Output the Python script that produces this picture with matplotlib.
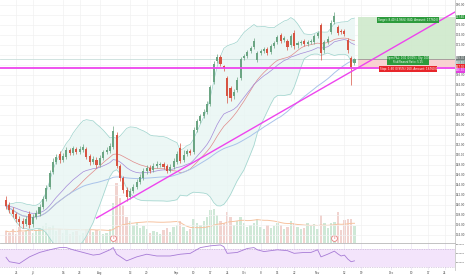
import matplotlib
matplotlib.use('Agg')
import matplotlib.pyplot as plt
import matplotlib.transforms as mtransforms
import pandas as pd

# -------------------------------
# Daily OHLC + volume (late Jun -> mid Nov)
# -------------------------------
opens = [141.0, 140.0, 139.0, 138.2, 137.2, 136.8, 136.2, 138.2, 136.2, 137.6,
         138.2, 139.6, 141.2, 143.6, 146.6, 148.6, 150.2, 149.0, 149.6, 151.0,
         150.4, 151.2, 150.6, 151.0, 151.2, 149.8, 148.6, 149.0, 148.0, 149.4,
         150.6, 150.8, 151.6, 154.0, 147.8, 145.4, 143.0, 141.6, 142.8, 143.6,
         144.6, 145.4, 146.8, 147.4, 147.0, 147.8, 148.0, 148.2, 147.8, 146.8,
         147.6, 148.6, 151.4, 149.0, 150.2, 150.8, 150.6, 155.0, 156.8, 157.8,
         158.6, 160.2, 164.6, 168.8, 169.6, 167.8, 165.4, 163.4, 161.8, 163.0,
         165.4, 169.4, 169.8, 170.8, 171.6, 169.0, 170.4, 170.8, 171.2, 170.6,
         171.8, 172.6, 174.0, 173.0, 172.8, 172.0, 174.4, 172.0, 172.4, 172.8,
         172.2, 172.6, 172.6, 173.8, 176.0, 171.0, 172.6, 174.6, 176.6, 175.6,
         174.8, 174.8, 173.0, 169.4, 168.4]
closes = [139.8, 139.0, 138.2, 137.2, 136.6, 136.2, 137.2, 136.0, 137.6, 138.4,
          139.6, 141.2, 143.4, 146.4, 148.6, 149.6, 149.0, 149.8, 151.0, 150.4,
          151.4, 150.6, 151.2, 151.6, 149.6, 148.6, 149.2, 148.0, 149.4, 150.6,
          151.0, 151.8, 154.8, 147.8, 145.4, 143.0, 141.6, 142.8, 143.6, 144.6,
          145.6, 146.8, 147.4, 146.8, 147.8, 148.2, 148.2, 147.6, 146.8, 147.6,
          148.8, 150.2, 148.8, 150.0, 150.8, 150.4, 155.0, 156.8, 157.8, 158.6,
          160.2, 163.6, 168.2, 169.6, 168.2, 167.4, 161.8, 161.4, 162.6, 165.0,
          169.2, 169.8, 170.6, 171.4, 172.8, 170.4, 170.8, 171.2, 170.4, 171.8,
          172.4, 173.6, 172.8, 173.4, 171.6, 173.8, 171.8, 172.4, 172.6, 172.2,
          172.6, 172.8, 173.8, 174.4, 170.4, 172.6, 173.2, 176.4, 177.8, 174.4,
          174.6, 174.2, 171.0, 167.6, 169.2]
highs = [141.8, 140.6, 139.6, 138.6, 137.8, 137.4, 137.8, 138.8, 138.2, 139.0,
         140.2, 141.8, 144.0, 147.0, 149.4, 150.2, 150.8, 150.4, 151.6, 151.4,
         151.8, 151.6, 151.8, 152.2, 151.6, 150.2, 149.8, 149.6, 150.0, 151.0,
         151.6, 152.4, 155.8, 154.6, 148.2, 145.8, 143.6, 143.4, 144.2, 145.2,
         146.2, 147.4, 148.0, 148.0, 148.4, 148.8, 148.6, 148.6, 148.2, 148.2,
         149.4, 150.8, 152.4, 151.0, 151.2, 151.2, 155.6, 157.2, 158.2, 159.2,
         160.8, 164.0, 168.8, 170.2, 170.0, 168.0, 165.8, 163.8, 163.2, 165.6,
         169.6, 170.2, 171.0, 171.8, 173.4, 170.8, 171.2, 171.6, 171.6, 172.2,
         172.8, 174.0, 174.4, 173.8, 173.2, 174.2, 175.0, 172.8, 173.0, 173.2,
         173.0, 173.2, 174.2, 174.8, 176.4, 173.0, 173.8, 177.0, 178.6, 176.0,
         175.2, 175.2, 173.4, 169.8, 169.4]
lows = [139.2, 138.4, 137.6, 136.6, 135.8, 135.4, 135.8, 135.4, 135.6, 137.2,
        137.8, 139.2, 140.8, 143.2, 146.2, 148.2, 148.4, 148.6, 149.2, 150.0,
        150.0, 150.2, 150.2, 150.6, 149.2, 148.0, 148.2, 147.4, 147.6, 149.0,
        150.2, 150.4, 151.2, 147.4, 144.8, 142.4, 140.8, 141.2, 142.4, 143.2,
        144.2, 145.0, 146.2, 146.4, 146.6, 147.4, 147.6, 147.2, 146.4, 146.6,
        147.2, 148.2, 148.4, 148.6, 149.8, 150.0, 150.2, 154.6, 156.4, 157.4,
        158.2, 159.8, 164.2, 168.4, 167.8, 166.8, 160.4, 160.8, 161.2, 162.6,
        165.0, 169.0, 169.4, 170.4, 171.2, 168.6, 170.0, 170.4, 170.0, 170.2,
        171.4, 172.2, 172.4, 172.6, 171.0, 171.6, 171.2, 171.4, 172.0, 171.8,
        171.8, 172.2, 172.2, 173.4, 169.0, 170.4, 172.2, 174.2, 176.2, 174.0,
        174.2, 173.8, 170.4, 164.0, 168.0]
volumes = [1.2, 1.0, 1.4, 0.9, 1.6, 1.1, 1.3, 1.8, 1.0, 1.2,
           1.5, 1.7, 2.0, 1.6, 1.8, 1.2, 1.4, 1.0, 1.3, 0.9,
           1.1, 1.2, 0.8, 1.0, 1.4, 1.5, 1.1, 1.3, 1.2, 0.9,
           1.0, 1.4, 4.0, 6.0, 4.5, 3.8, 2.6, 2.2, 1.8, 2.0,
           1.5, 1.7, 1.4, 1.0, 1.2, 1.1, 0.9, 1.3, 1.5, 1.1,
           1.6, 1.8, 2.2, 1.6, 1.2, 1.4, 2.4, 2.0, 1.8, 2.2,
           2.6, 3.3, 3.4, 2.8, 2.2, 2.0, 3.1, 2.6, 1.8, 2.2,
           2.6, 2.0, 1.6, 1.8, 2.0, 2.4, 1.6, 1.4, 1.8, 1.5,
           1.7, 2.0, 1.8, 1.4, 1.6, 2.2, 2.0, 1.6, 1.4, 1.5,
           2.0, 1.8, 1.9, 1.4, 2.8, 2.0, 1.5, 2.0, 2.1, 3.1,
           1.3, 2.3, 2.4, 2.4, 1.7]

# RSI (bar index, value)
rsi_idx = [0, 1, 4, 7, 10, 13, 16, 18, 20, 23, 26, 28, 31, 32, 33, 36, 39, 42,
           45, 49, 52, 55, 58, 61, 64, 65, 66, 69, 72, 74, 75, 77, 81, 84, 86,
           89, 91, 93, 94, 96, 98, 99, 100, 101, 102, 103, 104]
rsi_vals = [52, 42, 38, 53, 63, 69, 74, 74, 69, 63, 57, 59, 69, 74, 59, 44, 53,
            59, 55, 55, 59, 61, 74, 78, 80, 76, 61, 63, 72, 74, 69, 65, 69, 67,
            61, 63, 63, 69, 53, 59, 66, 60, 55, 57, 48, 42, 44]

tick_idx = [3, 8, 17, 22, 28, 37, 42, 51, 56, 61, 66, 71, 76, 81, 86, 93, 101,
            106, 115, 121, 126, 131]
tick_labels = ['25', 'Jul', '16', '23', 'Aug', '13', '20', 'Sep', '10', '17',
               '24', 'Oct', '8', '15', '22', 'Nov', '12', '19', 'Dec', '10',
               '17', '24']

# drawings
trend_idx = [27, 134]
trend_price = [137.4, 178.6]
hline_price = 167.4
entry_price = 169.2
target_price = 177.6
stop_price = 167.6
position_idx = [105, 134]
earnings_idx = [32, 98]
# right-axis tags: (price shown, colour) - stacked like TradingView does
tag_prices = [177.6, 169.3, 168.5, 167.7, 166.9]
tag_colors = ['#2c9b3c', '#6f7a78', '#8fa9a3', '#e8262b', '#e040e0']

UP, DOWN = '#6ba583', '#d75442'
PINK = '#ee44ee'
TXT = '#4a4a4a'

x = list(range(len(closes)))
s = pd.Series(closes)
basis = s.rolling(20, min_periods=1).mean()
dev = s.rolling(20, min_periods=1).std(ddof=0)
upper, lower = basis + 2 * dev, basis - 2 * dev
ema = s.ewm(span=20, adjust=False).mean()
ma50 = s.rolling(50, min_periods=1).mean()
vol_ma = pd.Series(volumes).rolling(20, min_periods=1).mean()
up = [c >= o for o, c in zip(opens, closes)]
colors = [UP if u else DOWN for u in up]

W, H = 466, 275
fig = plt.figure(figsize=(W / 100, H / 100), dpi=100)
fig.patch.set_facecolor('white')
main_rect = [0, 1 - 243 / H, 455 / W, 243 / H]
ax_v = fig.add_axes(main_rect)
ax = fig.add_axes(main_rect, sharex=ax_v)
ax.patch.set_alpha(0)
ax_r = fig.add_axes([0, 5.5 / H, 455 / W, 26.5 / H], sharex=ax_v)

xlim = (-1.8, 134.0)

# volume underlay
ax_v.bar(x, volumes, width=0.7,
         color=['#cfe8d7' if u else '#f1d3cf' for u in up], zorder=1)
ax_v.plot(x, vol_ma, color='#f7c3a0', lw=0.7, zorder=2)
ax_v.set_ylim(0, 24.3)
ax_v.axis('off')
for e in earnings_idx:
    ax_v.plot(e, 0.5, 'o', ms=4.2, mfc='white', mec='#e88080', mew=0.6,
              zorder=5)
    ax_v.text(e, 0.5, 'E', fontsize=1.8, color='#e06060', ha='center',
              va='center', zorder=6)

# grid
for t in tick_idx:
    ax.axvline(t, color='#f1f1f1', lw=0.5, zorder=0)
    ax_r.axvline(t, color='#ece4f4', lw=0.5, zorder=0)
price_ticks = list(range(134, 182, 2))
for p in price_ticks:
    ax.axhline(p, color='#f1f1f1', lw=0.5, zorder=0)

# bollinger bands + averages
ax.fill_between(x, lower, upper, color='#e8f5f3', alpha=0.8, lw=0, zorder=1)
ax.plot(x, upper, color='#9dd3cc', lw=0.5, zorder=2)
ax.plot(x, lower, color='#9dd3cc', lw=0.5, zorder=2)
ax.plot(x, basis, color='#e08a8a', lw=0.5, zorder=2)
ax.plot(x, ema, color='#a48ad8', lw=0.5, zorder=2)
ax.plot(x, ma50, color='#a9c3ea', lw=0.7, zorder=2)

# candles
ax.vlines(x, lows, highs, colors=colors, lw=0.5, zorder=3)
bottoms = [min(o, c) for o, c in zip(opens, closes)]
heights = [max(abs(c - o), 0.15) for o, c in zip(opens, closes)]
ax.bar(x, heights, bottom=bottoms, width=0.62, color=colors, lw=0, zorder=4)

# long position tool
ax.fill_between(position_idx, entry_price, target_price, color='#cfe9cb',
                alpha=0.9, lw=0, zorder=2)
ax.fill_between(position_idx, stop_price, entry_price, color='#f9cccc',
                alpha=0.9, lw=0, zorder=2)
ax.plot(position_idx, [entry_price] * 2, color='#8a8a8a', lw=0.5, zorder=3)
mid = (position_idx[0] + position_idx[1]) / 2 + 0.5
box = dict(boxstyle='square,pad=0.25', ec='none')
ax.text(mid, target_price - 0.6,
        'Target: 8.40 (4.96%) 840, Amount: 17760.0', fontsize=2,
        color='white', ha='center', va='center',
        bbox={**box, 'fc': '#2c9b3c'}, zorder=7)
ax.text(mid, entry_price - 0.25,
        'Open P&L: 0.00 (0.00%), Qty: 100\nRisk/Reward Ratio: 5.25',
        fontsize=1.8, color='white', ha='center', va='center',
        linespacing=1.0, bbox={**box, 'fc': '#2c9b3c'}, zorder=7)
ax.text(mid, stop_price - 0.4,
        'Stop: 1.60 (0.95%) 160, Amount: 16760.0', fontsize=2,
        color='white', ha='center', va='center',
        bbox={**box, 'fc': '#e8262b'}, zorder=7)

# drawings
ax.axhline(entry_price, color='#c9dedb', lw=0.6, zorder=1)
ax.axhline(hline_price, color=PINK, lw=1.3, zorder=5)
ax.plot(trend_idx, trend_price, color=PINK, lw=1.0, zorder=5)

ax.set_xlim(*xlim)
ax.set_ylim(132.4, 181.0)
ax.yaxis.tick_right()
# axis labels hidden where a coloured tag sits on top of them
shown = [p for p in price_ticks if min(abs(p - t) for t in tag_prices) > 0.7]
ax.set_yticks(shown)
ax.set_yticklabels([f'{p:.2f}' for p in shown])
ax.tick_params(axis='y', length=0, pad=0.8, labelsize=2.0, labelcolor=TXT)
ax.tick_params(axis='x', bottom=False, labelbottom=False)
for sp in ['top', 'left', 'bottom']:
    ax.spines[sp].set_visible(False)
ax.spines['right'].set_color('#c8c8c8')
ax.spines['right'].set_linewidth(0.6)

# right-axis price tags
tr = mtransforms.blended_transform_factory(ax.transAxes, ax.transData)
for p, c in zip(tag_prices, tag_colors):
    ax.text(1.002, p, f'{p:.2f}', transform=tr, fontsize=1.9, color='white',
            ha='left', va='center', clip_on=False,
            bbox=dict(boxstyle='square,pad=0.15', fc=c, ec='none'), zorder=8)

# RSI pane
ax_r.axhspan(30, 70, color='#f3e4fb', lw=0, zorder=0)
ax_r.axhline(70, color='#b9a6c9', lw=0.5, ls=(0, (1, 1.5)))
ax_r.axhline(30, color='#b9a6c9', lw=0.5, ls=(0, (1, 1.5)))
ax_r.plot(rsi_idx, rsi_vals, color='#a77bd6', lw=0.6)
ax_r.set_ylim(24.4, 84.4)
ax_r.set_xlim(*xlim)
ax_r.yaxis.tick_right()
ax_r.set_yticks([80, 60, 40])
ax_r.set_yticklabels(['80.0000', '60.0000', '40.0000'])
ax_r.set_xticks(tick_idx)
ax_r.set_xticklabels(tick_labels)
ax_r.tick_params(axis='x', length=0, pad=0.8, labelsize=2.0, labelcolor=TXT)
ax_r.tick_params(axis='y', length=0, pad=0.5, labelsize=1.6, labelcolor=TXT)
for sp in ['left', 'bottom']:
    ax_r.spines[sp].set_visible(False)
ax_r.spines['top'].set_color('#b8b8b8')
ax_r.spines['top'].set_linewidth(0.6)
ax_r.spines['right'].set_color('#c8c8c8')
ax_r.spines['right'].set_linewidth(0.6)

fig.savefig('out.png', dpi=100)
